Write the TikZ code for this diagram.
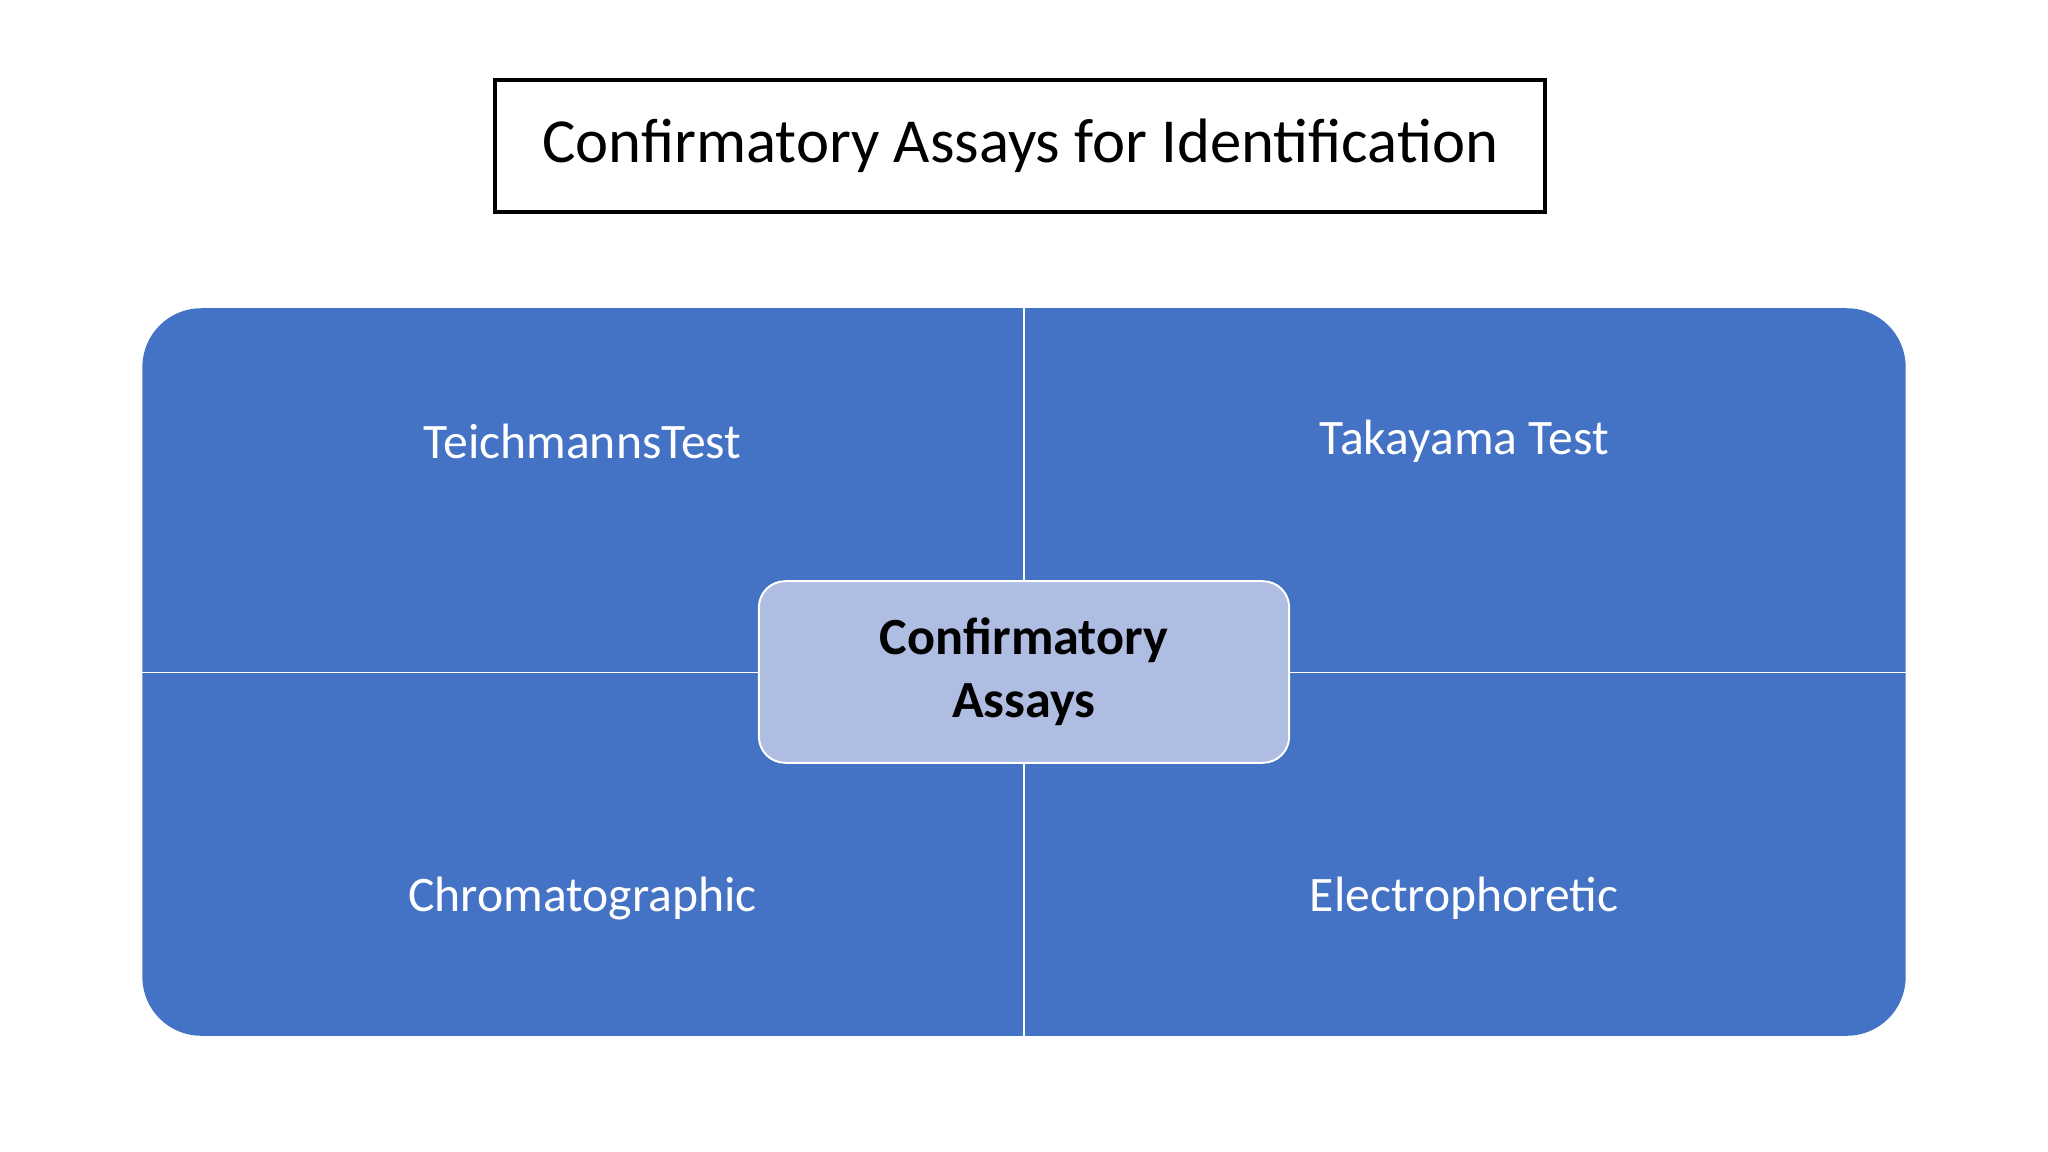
\documentclass[tikz,border=0pt]{standalone}
\usepackage{fontspec}
\setmainfont{Carlito}
\definecolor{qblue}{HTML}{4472C4}
\definecolor{cfill}{HTML}{B0BDE3}
\begin{document}
\begin{tikzpicture}[x=1pt,y=-1pt,
  qtext/.style={text=white,font=\fontsize{38}{44}\selectfont},
  divider/.style={white,line width=1.2pt}]
\useasboundingbox[fill=white] (0,0) rectangle (1568,882);
\node[draw=black,line width=3pt,minimum width=804pt,minimum height=101pt,
  font=\fontsize{48}{56}\selectfont] (title) at (781,111.5) {Confirmatory Assays for Identification};
\node[fill=qblue,rounded corners=45pt,minimum width=1350pt,minimum height=557pt,inner sep=0pt] (big) at (784,514.5) {};
\coordinate (vt) at (784,236); \coordinate (vb) at (784,793);
\coordinate (hl) at (109,515); \coordinate (hr) at (1459,515);
\draw[divider] (vt) -- (vb);
\draw[divider] (hl) -- (hr);
\node[qtext] (q1) at (446,338) {TeichmannsTest};
\node[qtext] (q2) at (1121,338) {Takayama Test};
\node[qtext] (q3) at (446,688) {Chromatographic};
\node[qtext] (q4) at (1121,688) {Electrophoretic};
\node[fill=cfill,draw=white,line width=1.5pt,rounded corners=20pt,minimum width=406pt,minimum height=139pt,
  align=center,font=\bfseries\fontsize{40}{48}\selectfont] (center) at (784,514.5) {Confirmatory\\Assays};
\end{tikzpicture}
\end{document}
